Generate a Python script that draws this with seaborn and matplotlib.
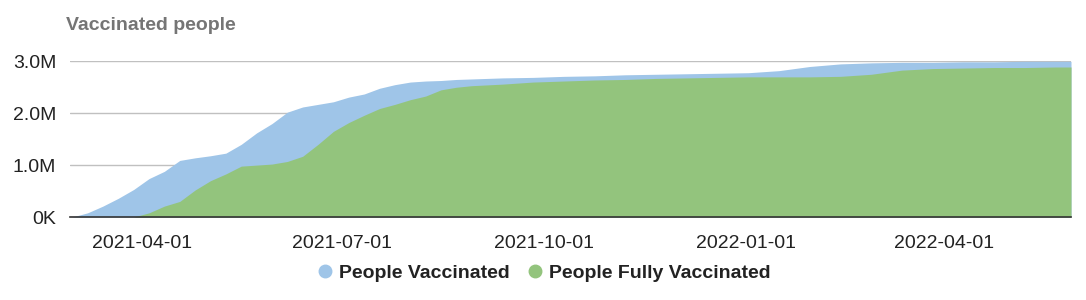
import numpy as np
import pandas as pd
import matplotlib
matplotlib.use("Agg")
import matplotlib.pyplot as plt
import matplotlib.dates as mdates
from matplotlib.lines import Line2D
from matplotlib.ticker import FuncFormatter
import seaborn as sns

dates = ["2021-02-28", "2021-03-07", "2021-03-14", "2021-03-21", "2021-03-28",
         "2021-04-04", "2021-04-11", "2021-04-18", "2021-04-25", "2021-05-02",
         "2021-05-09", "2021-05-16", "2021-05-23", "2021-05-30", "2021-06-06",
         "2021-06-13", "2021-06-20", "2021-06-27", "2021-07-04", "2021-07-11",
         "2021-07-18", "2021-07-25", "2021-08-01", "2021-08-08", "2021-08-15",
         "2021-08-22", "2021-08-29", "2021-09-12", "2021-09-26", "2021-10-10",
         "2021-10-24", "2021-11-07", "2021-11-21", "2021-12-05", "2021-12-19",
         "2022-01-02", "2022-01-16", "2022-01-30", "2022-02-13", "2022-02-27",
         "2022-03-13", "2022-03-27", "2022-04-10", "2022-04-24", "2022-05-08",
         "2022-05-22", "2022-05-29"]

people_vaccinated = [0.00, 0.08, 0.21, 0.36, 0.53, 0.74, 0.88, 1.09, 1.14, 1.18,
                     1.23, 1.40, 1.62, 1.80, 2.02, 2.12, 2.17, 2.22, 2.31, 2.37,
                     2.48, 2.55, 2.60, 2.62, 2.63, 2.65, 2.66, 2.68, 2.69, 2.71,
                     2.72, 2.74, 2.75, 2.76, 2.77, 2.78, 2.82, 2.90, 2.95, 2.97,
                     2.98, 2.98, 2.99, 2.99, 3.00, 3.00, 3.00]

people_fully_vaccinated = [0.00, 0.00, 0.00, 0.00, 0.00, 0.08, 0.21, 0.30, 0.52, 0.70,
                           0.83, 0.98, 1.00, 1.02, 1.07, 1.17, 1.40, 1.65, 1.82, 1.96,
                           2.09, 2.17, 2.26, 2.33, 2.45, 2.50, 2.53, 2.56, 2.60, 2.62,
                           2.64, 2.65, 2.67, 2.68, 2.69, 2.70, 2.70, 2.70, 2.71, 2.75,
                           2.83, 2.86, 2.87, 2.88, 2.88, 2.89, 2.89]

tick_dates = ["2021-04-01", "2021-07-01", "2021-10-01", "2022-01-01", "2022-04-01"]
y_ticks = [0, 1e6, 2e6, 3e6]

series_names = ["People Vaccinated", "People Fully Vaccinated"]
colors = ["#9fc5e8", "#93c47d"]

sns.set_theme(style="white")
plt.rcParams["font.family"] = ["Liberation Sans", "DejaVu Sans"]

df = pd.DataFrame({
    "date": pd.to_datetime(dates),
    series_names[0]: np.array(people_vaccinated) * 1e6,
    series_names[1]: np.array(people_fully_vaccinated) * 1e6,
})

fig = plt.figure(figsize=(10.86, 3.0), dpi=100)
ax = fig.add_axes([70 / 1086, 1 - 217 / 300, (1071 - 70) / 1086, (217 - 61.3) / 300])

for name, col in zip(series_names, colors):
    sns.lineplot(data=df, x="date", y=name, ax=ax, color=col, linewidth=0)
    ax.fill_between(df["date"], 0, df[name], color=col, linewidth=0, zorder=2)

ax.set_xlim(pd.Timestamp("2021-02-27"), pd.Timestamp("2022-05-29"))
ax.set_ylim(0, 3e6)
ax.set_yticks(y_ticks)
ax.yaxis.set_major_formatter(FuncFormatter(lambda v, p: "0K" if v == 0 else f"{v/1e6:.1f}M"))
ax.set_xticks(pd.to_datetime(tick_dates))
ax.xaxis.set_major_formatter(mdates.DateFormatter("%Y-%m-%d"))
ax.set_xlabel("")
ax.set_ylabel("")

ax.grid(axis="y", color="#c0c0c0", linewidth=1.0, zorder=1)
ax.grid(axis="x", visible=False)
ax.set_axisbelow(True)
for s in ["top", "right", "left"]:
    ax.spines[s].set_visible(False)
ax.spines["bottom"].set_color("#333333")
ax.spines["bottom"].set_linewidth(1.2)
ax.spines["bottom"].set_zorder(5)
ax.tick_params(axis="both", length=0, labelsize=14, colors="#222222")
ax.tick_params(axis="y", pad=10)
ax.tick_params(axis="x", pad=13)

fig.text(66 / 1086, 1 - 25 / 300, "Vaccinated people", fontsize=14, fontweight="bold",
         color="#757575", ha="left", va="center")

handles = [Line2D([0], [0], marker="o", linestyle="", markersize=9,
                  markerfacecolor=c, markeredgecolor=c) for c in colors]
leg = fig.legend(handles, series_names, loc="center", bbox_to_anchor=(0.5, 1 - 273 / 300),
                 ncol=2, frameon=False, handletextpad=0.2, columnspacing=0.8,
                 handlelength=1.0, prop={"size": 14, "weight": "bold"})
for t in leg.get_texts():
    t.set_color("#222222")

fig.savefig("out.png", dpi=100)
